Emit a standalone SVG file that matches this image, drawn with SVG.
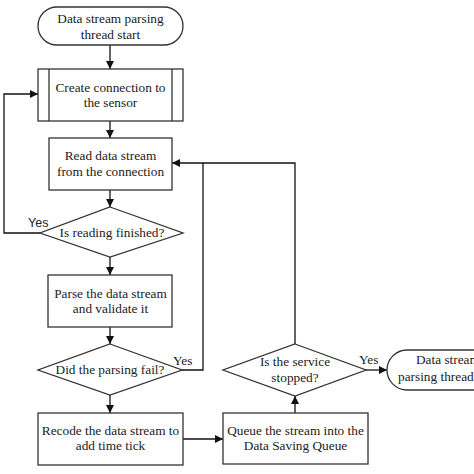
<svg xmlns="http://www.w3.org/2000/svg" width="474" height="474" viewBox="0 0 474 474">
<defs>
<marker id="ah" viewBox="0 0 10 10" refX="10" refY="5" markerWidth="8" markerHeight="8" markerUnits="userSpaceOnUse" orient="auto">
<path d="M0,0 L10,5 L0,10 z" fill="#111"/>
</marker>
<style>
.s{fill:#fff;stroke:#333;stroke-width:1.3}
.c{fill:none;stroke:#111;stroke-width:1.3}
.t{font-family:"Liberation Serif","Times New Roman",serif;font-size:13.3px;fill:#222;text-anchor:middle}
.y{font-family:"Liberation Serif","Times New Roman",serif;font-size:13.3px;fill:#222}
.ys{font-family:"Liberation Sans",Arial,sans-serif;font-size:12.5px;fill:#222}
</style>
</defs>
<rect width="474" height="474" fill="#fff"/>
<g id="connectors">
<path class="c" d="M110,45 V69" marker-end="url(#ah)"/>
<path class="c" d="M110,121 V138" marker-end="url(#ah)"/>
<path class="c" d="M110,190 V207" marker-end="url(#ah)"/>
<path class="c" d="M110,257 V275" marker-end="url(#ah)"/>
<path class="c" d="M110,327 V344" marker-end="url(#ah)"/>
<path class="c" d="M110,395 V413" marker-end="url(#ah)"/>
<path class="c" d="M40,233 H4 V94 H38" marker-end="url(#ah)"/>
<path class="c" d="M182,370 H203 V163"/>
<path class="c" d="M295,344 V163 H172" marker-end="url(#ah)"/>
<path class="c" d="M183,439 H223" marker-end="url(#ah)"/>
<path class="c" d="M295,413 V396" marker-end="url(#ah)"/>
<path class="c" d="M366,370 H387" marker-end="url(#ah)"/>
<text class="ys" x="28" y="227">Yes</text>
<text class="y" x="173" y="365">Yes</text>
<text class="y" x="359" y="364">Yes</text>
</g>
<g id="start">
<rect class="s" x="38" y="7" width="145" height="38" rx="19"/>
<text class="t" x="110.5" y="23">Data stream parsing</text>
<text class="t" x="110.5" y="39">thread start</text>
</g>
<g id="create">
<rect class="s" x="38" y="69" width="145" height="52"/>
<path class="c" d="M49,69 V121 M172,69 V121" style="stroke:#333"/>
<text class="t" x="110.5" y="92">Create connection to</text>
<text class="t" x="110.5" y="107">the sensor</text>
</g>
<g id="read">
<rect class="s" x="49" y="138" width="123" height="52"/>
<text class="t" x="110.5" y="160">Read data stream</text>
<text class="t" x="110.5" y="176">from the connection</text>
</g>
<g id="finished">
<polygon class="s" points="110,207 183,233 110,257 40,233"/>
<text class="t" x="112" y="237">Is reading finished?</text>
</g>
<g id="parse">
<rect class="s" x="48" y="275" width="124" height="52"/>
<text class="t" x="110.5" y="298">Parse the data stream</text>
<text class="t" x="110.5" y="313">and validate it</text>
</g>
<g id="fail">
<polygon class="s" points="110,344 182,370 110,395 38,370"/>
<text class="t" x="110" y="374">Did the parsing fail?</text>
</g>
<g id="recode">
<rect class="s" x="38" y="413" width="145" height="52"/>
<text class="t" x="110.5" y="435">Recode the data stream to</text>
<text class="t" x="110.5" y="450">add time tick</text>
</g>
<g id="queue">
<rect class="s" x="223" y="413" width="145" height="51"/>
<text class="t" x="295.5" y="435">Queue the stream into the</text>
<text class="t" x="295.5" y="450">Data Saving Queue</text>
</g>
<g id="stopped">
<polygon class="s" points="295,344 366,370 295,396 223,370"/>
<text class="t" x="295" y="366">Is the service</text>
<text class="t" x="295" y="382">stopped?</text>
</g>
<g id="end">
<rect class="s" x="387" y="350" width="132" height="40" rx="20"/>
<text class="y" x="416" y="364">Data stream</text>
<text class="y" x="398" y="381">parsing thread</text>
</g>
</svg>
